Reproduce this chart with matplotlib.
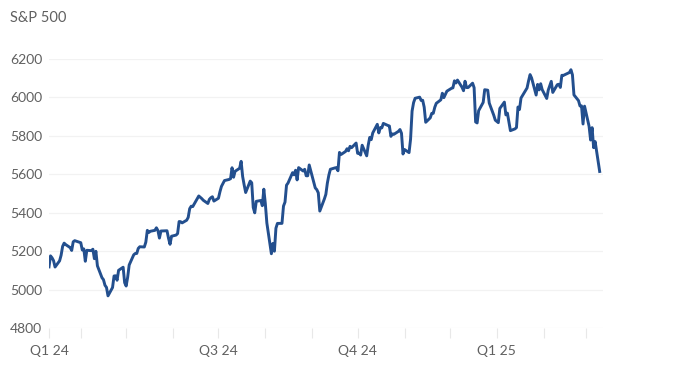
import matplotlib.pyplot as plt
import pandas as pd

# S&P 500 daily closes, Mar 11 2024 - Mar 10 2025
dates = pd.bdate_range('2024-03-11', '2025-03-10')
holidays = pd.to_datetime(['2024-03-29', '2024-05-27', '2024-06-19', '2024-07-04',
                           '2024-09-02', '2024-11-28', '2024-12-25', '2025-01-01',
                           '2025-01-09', '2025-01-20', '2025-02-17'])
dates = dates[~dates.isin(holidays)]

closes = [
    5117.9, 5175.3, 5165.3, 5150.5, 5117.1, 5149.4, 5178.5, 5224.6, 5241.5, 5234.2,
    5218.2, 5203.6, 5248.5, 5254.4,
    5243.8, 5205.8, 5211.5, 5147.2, 5204.3, 5202.4, 5209.9, 5160.6, 5199.1, 5123.4,
    5061.8, 5051.4, 5022.2, 5011.1, 4967.2, 5010.6, 5070.6, 5071.6, 5048.4, 5100.0,
    5116.2, 5035.7,
    5018.4, 5064.2, 5127.8, 5180.7, 5187.7, 5187.7, 5214.1, 5222.7, 5221.4, 5246.7,
    5308.2, 5297.1, 5303.3, 5308.1, 5321.4, 5307.0, 5267.8, 5304.7, 5306.0, 5267.0,
    5235.5, 5277.5,
    5283.4, 5291.3, 5354.0, 5353.0, 5347.0, 5360.8, 5375.3, 5421.0, 5433.7, 5431.6,
    5473.2, 5487.0, 5473.2, 5464.6, 5447.9, 5469.3, 5477.9, 5482.9, 5460.5,
    5475.1, 5509.0, 5537.0, 5567.2, 5572.9, 5577.0, 5633.9, 5584.5, 5615.4, 5631.2,
    5667.2, 5588.3, 5544.6, 5505.0, 5564.4, 5555.7, 5427.1, 5399.2, 5459.1, 5463.5,
    5436.4, 5522.3,
    5446.7, 5346.6, 5186.3, 5240.0, 5199.5, 5319.3, 5344.2, 5344.4, 5434.4, 5455.2,
    5543.2, 5554.3, 5608.3, 5597.1, 5620.9, 5570.6, 5634.6, 5616.8, 5625.8, 5592.2,
    5592.0, 5648.4,
    5528.9, 5520.1, 5503.4, 5408.4, 5471.1, 5495.5, 5554.1, 5595.8, 5626.0, 5633.1,
    5634.6, 5618.3, 5713.6, 5702.6, 5718.6, 5732.9, 5722.3, 5745.4, 5738.2, 5762.5,
    5708.8, 5709.5, 5699.9, 5751.1, 5695.9, 5751.1, 5792.0, 5780.1, 5815.0, 5859.9,
    5815.3, 5842.5, 5841.5, 5864.7, 5854.0, 5851.2, 5797.4, 5809.9, 5808.1, 5823.5,
    5832.9, 5813.7, 5705.5,
    5728.8, 5712.7, 5782.8, 5929.0, 5973.1, 5995.5, 6001.4, 5984.0, 5985.4, 5949.2,
    5870.6, 5893.6, 5917.0, 5917.1, 5948.7, 5969.3, 5987.4, 6021.6, 5998.7, 6032.4,
    6047.2, 6049.9, 6086.5, 6075.1, 6090.3, 6052.9, 6034.9, 6084.2, 6051.3, 6051.1,
    6074.1, 6050.6, 5872.2, 5867.1, 5930.9, 5974.1, 6040.0, 6037.6, 5970.8, 5906.9,
    5881.6,
    5868.6, 5942.5, 5975.4, 5909.0, 5918.3, 5827.0, 5836.2, 5842.9, 5949.9, 5937.3,
    5996.7, 6049.2, 6086.4, 6118.7, 6101.2, 6012.3, 6067.7, 6039.3, 6071.2, 6040.5,
    5994.6, 6037.9, 6061.5, 6083.6, 6026.0, 6066.4, 6068.5, 6052.0, 6115.1, 6114.6,
    6129.6, 6144.2, 6117.5, 6013.1, 5983.3, 5955.3, 5956.1, 5861.6, 5954.5,
    5849.7, 5778.2, 5842.6, 5738.5, 5770.2, 5614.6,
]

tick_dates = pd.to_datetime(['2024-03-11', '2024-04-01', '2024-05-01', '2024-06-01',
                             '2024-07-01', '2024-08-01', '2024-09-01', '2024-10-01',
                             '2024-11-01', '2024-12-01', '2025-01-01', '2025-02-01',
                             '2025-03-01'])
tick_labels = ['Q1 24', '', '', '', 'Q3 24', '', '', 'Q4 24', '', '', 'Q1 25', '', '']
y_ticks = [4800, 5000, 5200, 5400, 5600, 5800, 6000, 6200]

plt.rcParams['font.family'] = ['Lato', 'DejaVu Sans']
text_color = '#606060'

fig = plt.figure(figsize=(7, 3.71), dpi=100)
ax = fig.add_axes([0.07, 0.116, 0.791, 0.725])

ax.plot(dates, closes, color='#234f8e', linewidth=2.1, solid_joinstyle='round')

ax.set_xlim(pd.Timestamp('2024-03-11'), pd.Timestamp('2025-03-12'))
ax.set_ylim(4800, 6200)
ax.set_yticks(y_ticks)
ax.set_yticklabels([str(v) for v in y_ticks])
ax.set_xticks(tick_dates)
ax.set_xticklabels(tick_labels)

ax.grid(axis='y', color='#f2f2f2', linewidth=0.9)
ax.set_axisbelow(True)
for s in ax.spines.values():
    s.set_visible(False)

ax.tick_params(axis='y', length=0, pad=5, labelsize=10, labelcolor=text_color)
ax.tick_params(axis='x', length=7, width=0.8, color='#e8e8e8', pad=5,
               labelsize=10, labelcolor=text_color)

fig.text(0.015, 0.952, 'S&P 500', fontsize=10.5, color=text_color, va='center', ha='left')

fig.savefig('out.png', dpi=100)
